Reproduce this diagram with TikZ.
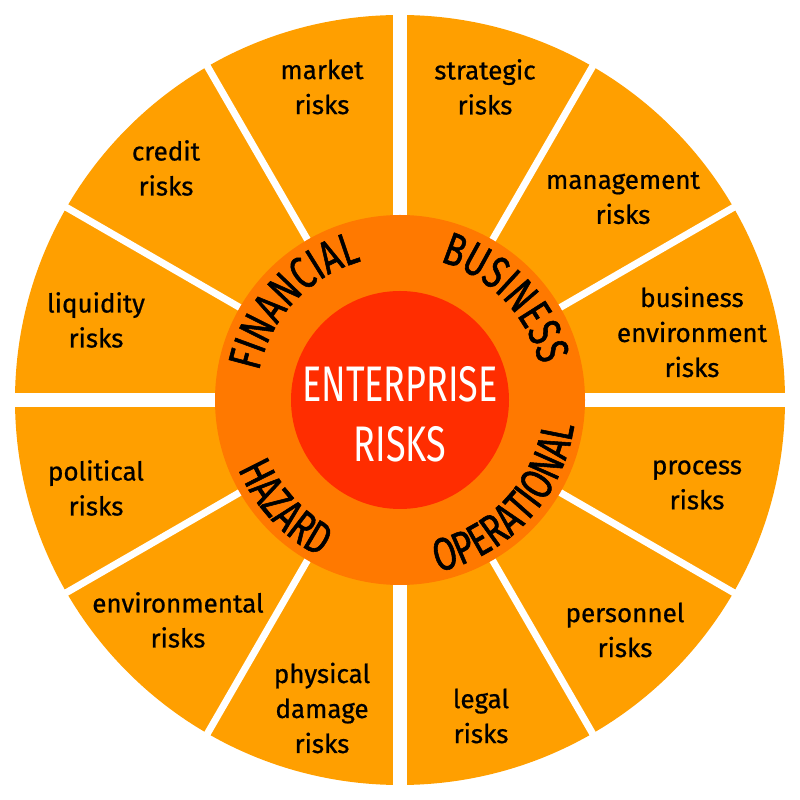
\documentclass[tikz,border=0pt]{standalone}
\usepackage{fontspec}
\setmainfont{Fira Sans}[FakeBold=0.7]
\newfontfamily\catfont{Fira Sans}[FakeStretch=0.74,FakeBold=1.2]
\newfontfamily\cenfont{Fira Sans}[FakeStretch=0.72]
\usetikzlibrary{decorations.text}
\definecolor{outerc}{RGB}{255,159,0}
\definecolor{midc}{RGB}{255,121,0}
\definecolor{innerc}{RGB}{255,45,0}
\tikzset{
  x=1pt,y=1pt,
  lbl/.style={align=center,text=black,font=\fontsize{26}{35}\selectfont,inner sep=0pt},
  sepmajor/.style={white,line width=14pt},
  sepminor/.style={white,line width=7pt},
  cat/.style={decorate,decoration={text along path,text align=center,text color=black}},
  cen/.style={text=white,font=\cenfont\fontsize{50}{50}\selectfont,inner sep=0pt,anchor=base}
}
\begin{document}
\begin{tikzpicture}
\useasboundingbox (0,0) rectangle (800,800);
\coordinate (C) at (400,400);
% outer disc
\fill[outerc] (C) circle[radius=385];
% separators
\foreach \a in {0,90,180,270}{\draw[sepmajor] (C) -- ++(\a:392);}
\foreach \a in {30,60,120,150,210,240,300,330}{\draw[sepminor] (C) -- ++(\a:392);}
% middle and inner circles
\fill[midc] (C) circle[radius=185];
\fill[innerc] (C) circle[radius=109];
% category texts
\path[cat,decoration={text={|\catfont\fontsize{46}{46}\selectfont|FINANCIAL}}]
  ([shift={(400,400)}]202:144) arc[start angle=202,end angle=72,radius=144];
\path[cat,decoration={text={|\catfont\fontsize{46}{46}\selectfont|BUSINESS}}]
  ([shift={(400,400)}]109:144) arc[start angle=109,end angle=-21,radius=144];
\path[cat,decoration={text={|\catfont\fontsize{46}{46}\selectfont|HAZARD}}]
  ([shift={(400,400)}]158:176) arc[start angle=158,end angle=288,radius=176];
\path[cat,decoration={text={|\catfont\fontsize{46}{46}\selectfont|OPERATIONAL}}]
  ([shift={(400,400)}]252:176) arc[start angle=252,end angle=382,radius=176];
% centre text
\node[cen] (ent) at (400,398) {ENTERPRISE};
\node[cen] (risks) at (400,338) {RISKS};
% outer labels
\node[lbl] (market) at (322,713) {market\\risks};
\node[lbl] (strategic) at (485,713) {strategic\\risks};
\node[lbl] (credit) at (166,632) {credit\\risks};
\node[lbl] (management) at (623,602) {management\\risks};
\node[lbl] (liquidity) at (96,480) {liquidity\\risks};
\node[lbl] (busenv) at (692,468) {business\\environment\\risks};
\node[lbl] (political) at (96,312) {political\\risks};
\node[lbl] (process) at (697,315) {process\\risks};
\node[lbl] (environmental) at (178,180) {environmental\\risks};
\node[lbl] (personnel) at (625,170) {personnel\\risks};
\node[lbl] (physical) at (322,92) {physical\\damage\\risks};
\node[lbl] (legal) at (481,84) {legal\\risks};
\end{tikzpicture}
\end{document}
